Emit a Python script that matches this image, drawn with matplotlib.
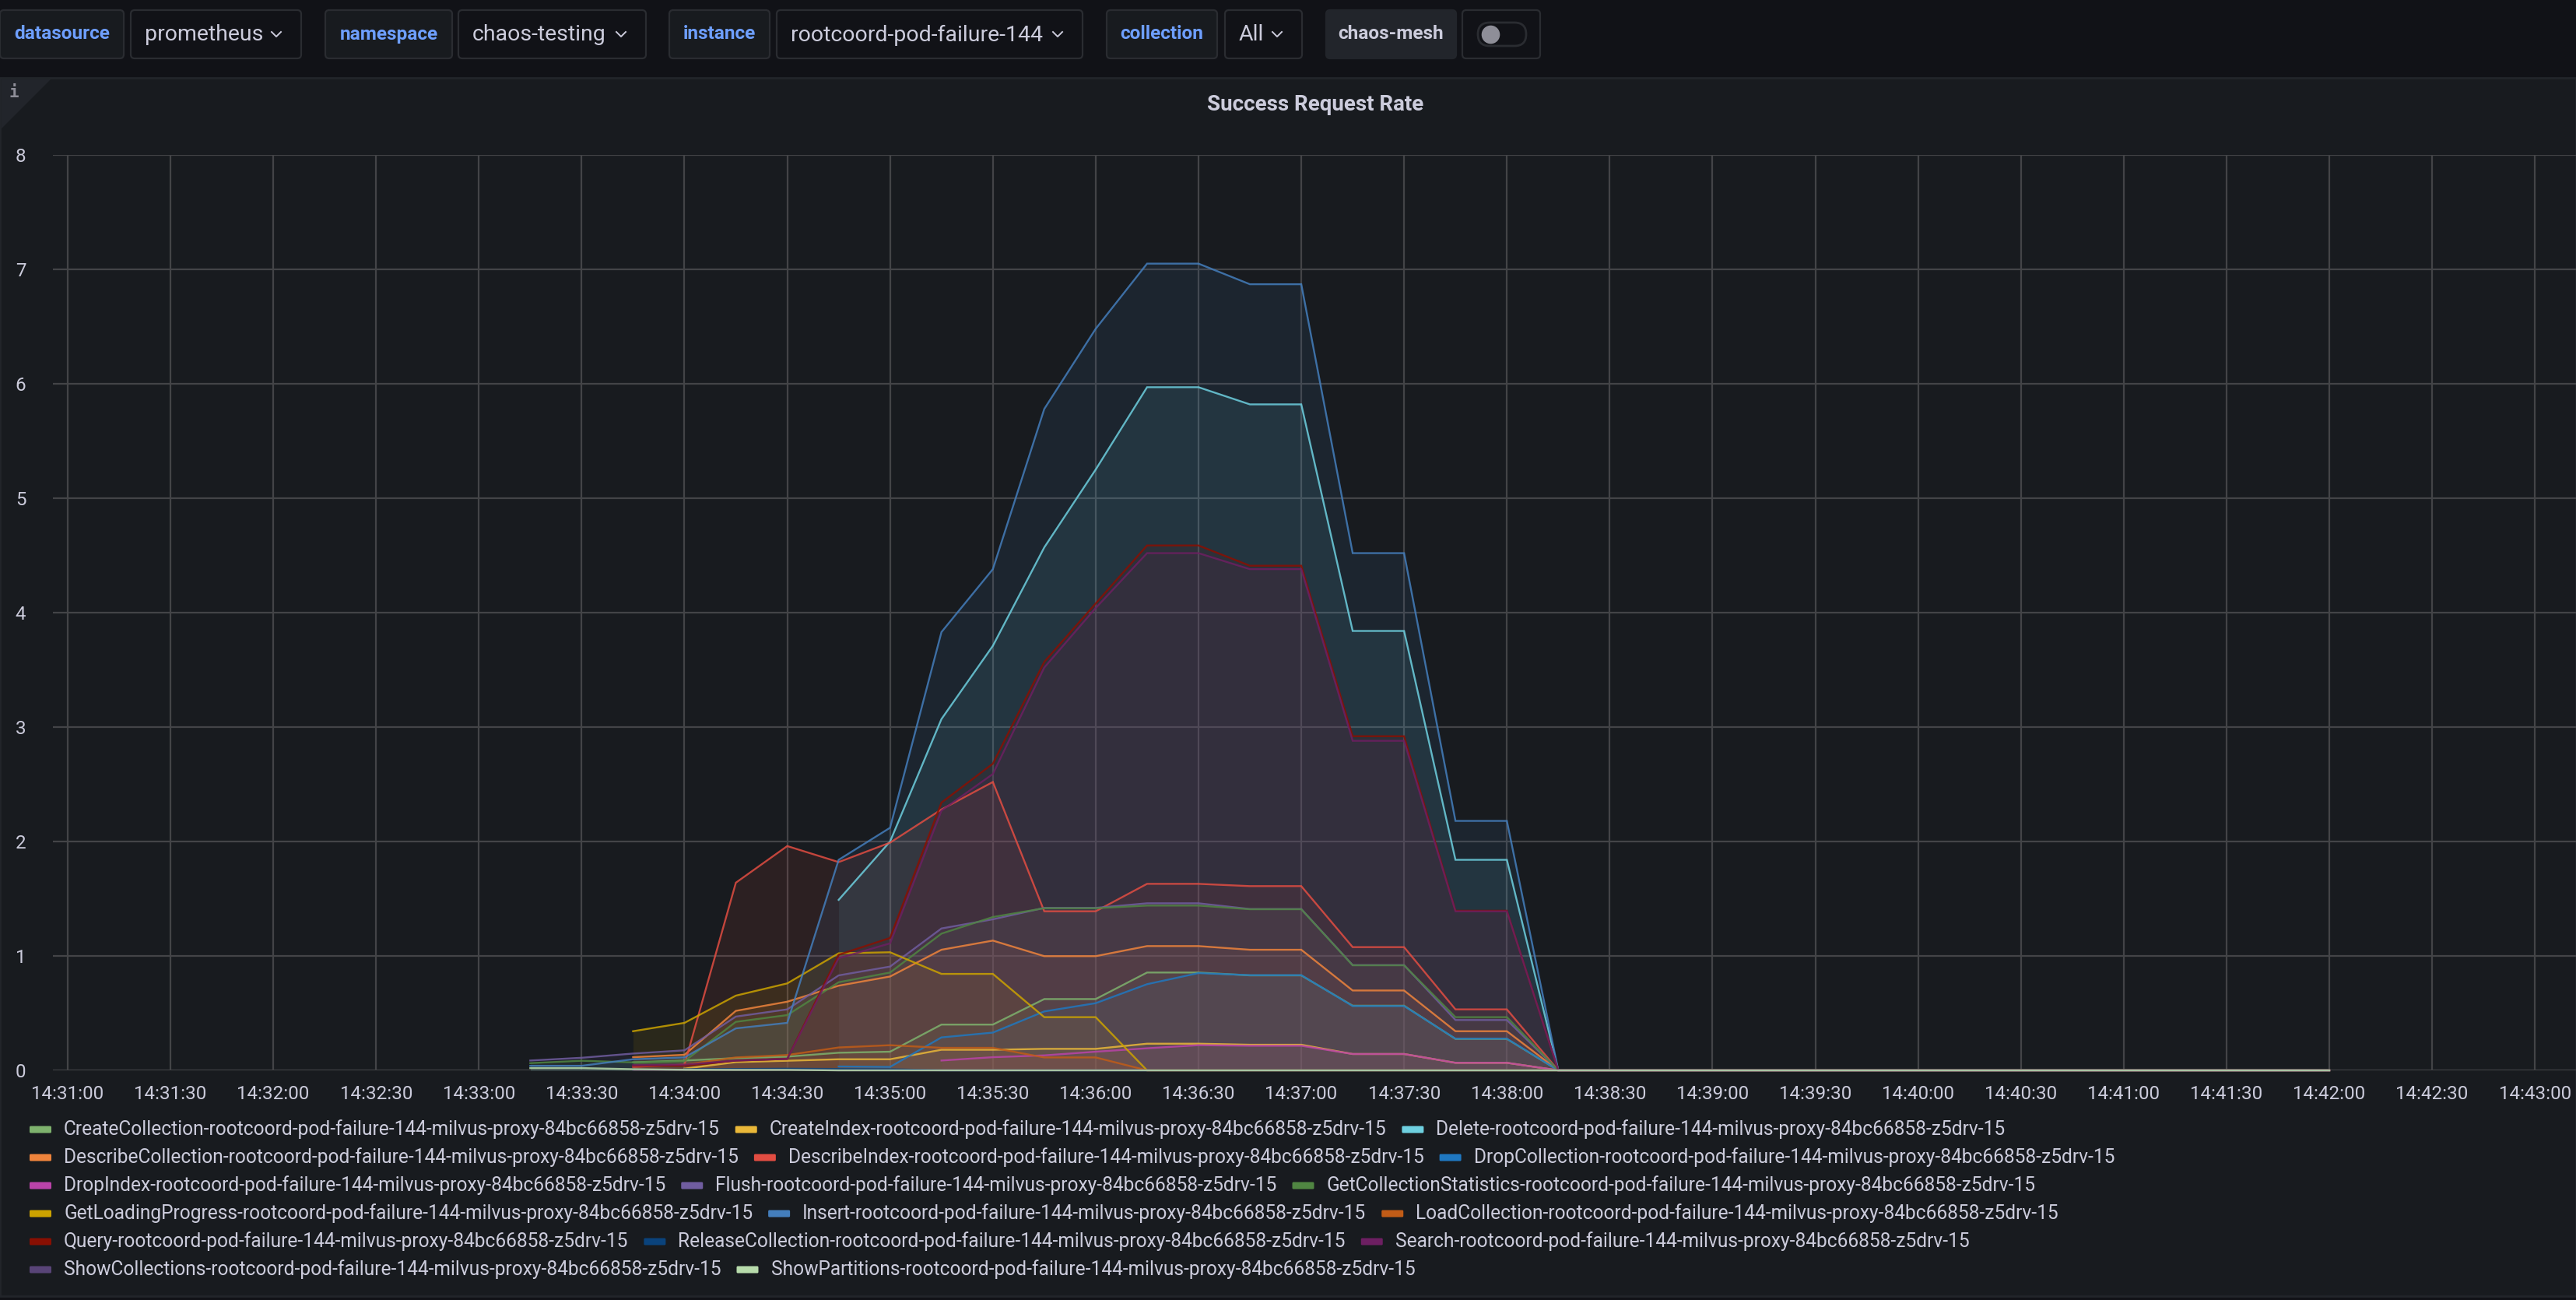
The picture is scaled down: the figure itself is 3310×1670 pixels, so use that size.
import numpy as np
import pandas as pd
import matplotlib
matplotlib.use("Agg")
import matplotlib.pyplot as plt
import matplotlib.dates as mdates
from matplotlib.patches import FancyBboxPatch, Polygon, Rectangle

plt.rcParams['font.family'] = ['Roboto', 'DejaVu Sans']

W, H = 3310, 1670
nan = np.nan

# samples every 15s, 14:33:15 .. 14:38:15, after that every series sits at 0 until 14:42:00
times = pd.date_range("2022-01-01 14:33:15", "2022-01-01 14:42:00", freq="15s")
tail = [0.0] * 15

suffix = "-rootcoord-pod-failure-144-milvus-proxy-84bc66858-z5drv-15"
names = ["CreateCollection", "CreateIndex", "Delete", "DescribeCollection", "DescribeIndex",
         "DropCollection", "DropIndex", "Flush", "GetCollectionStatistics", "GetLoadingProgress",
         "Insert", "LoadCollection", "Query", "ReleaseCollection", "Search", "ShowCollections",
         "ShowPartitions"]
colors = ["#7EB26D", "#EAB839", "#6ED0E0", "#EF843C", "#E24D42", "#1F78C1", "#BA43A9", "#705DA0",
          "#508642", "#CCA300", "#447EBC", "#C15C17", "#890F02", "#0A437C", "#6D1F62", "#584477",
          "#B7DBAB"]
legend_rows = [3, 3, 3, 3, 3, 2]

create_collection = [nan, nan, 0.07, 0.086, 0.107, 0.12, 0.154, 0.163, 0.40, 0.40, 0.623, 0.623, 0.855, 0.855, 0.83, 0.83, 0.565, 0.565, 0.275, 0.275, 0]
create_index = [nan, nan, nan, 0.015, 0.072, 0.084, 0.097, 0.097, 0.18, 0.18, 0.188, 0.188, 0.233, 0.233, 0.224, 0.224, 0.143, 0.143, 0.066, 0.066, 0]
delete = [nan, nan, nan, nan, nan, nan, 1.49, 2.0, 3.07, 3.71, 4.57, 5.25, 5.97, 5.97, 5.82, 5.82, 3.84, 3.84, 1.84, 1.84, 0]
describe_collection = [nan, nan, 0.115, 0.136, 0.52, 0.60, 0.74, 0.82, 1.054, 1.134, 0.998, 0.998, 1.086, 1.086, 1.054, 1.054, 0.698, 0.698, 0.342, 0.342, 0]
describe_index = [nan, nan, 0.03, 0.05, 1.64, 1.96, 1.82, 1.99, 2.28, 2.52, 1.39, 1.39, 1.63, 1.63, 1.61, 1.61, 1.077, 1.077, 0.533, 0.533, 0]
drop_collection = [nan, nan, nan, nan, nan, nan, 0.034, 0.03, 0.288, 0.33, 0.515, 0.587, 0.753, 0.85, 0.832, 0.832, 0.562, 0.562, 0.277, 0.277, 0]
drop_index = [nan, nan, nan, nan, nan, nan, nan, nan, 0.086, 0.115, 0.131, 0.163, 0.193, 0.22, 0.215, 0.215, 0.143, 0.143, 0.066, 0.066, 0]
flush = [0.086, 0.11, 0.147, 0.175, 0.47, 0.533, 0.83, 0.907, 1.24, 1.32, 1.42, 1.42, 1.46, 1.46, 1.41, 1.41, 0.92, 0.92, 0.44, 0.44, 0]
get_statistics = [0.063, 0.084, 0.07, 0.08, 0.424, 0.483, 0.77, 0.855, 1.195, 1.34, 1.417, 1.417, 1.44, 1.44, 1.408, 1.408, 0.918, 0.918, 0.465, 0.465, 0]
get_loading = [nan, nan, 0.342, 0.415, 0.653, 0.76, 1.023, 1.032, 0.843, 0.843, 0.465, 0.465, 0, 0, 0, 0, 0, 0, 0, 0, 0]
insert = [0.04, 0.04, 0.097, 0.113, 0.367, 0.415, 1.84, 2.12, 3.83, 4.38, 5.78, 6.48, 7.05, 7.05, 6.87, 6.87, 4.52, 4.52, 2.18, 2.18, 0]
load_collection = [nan, nan, nan, 0.05, 0.113, 0.134, 0.2, 0.22, 0.197, 0.197, 0.113, 0.113, 0, 0, 0, 0, 0, 0, 0, 0, 0]
query = [nan, nan, 0.04, 0.04, 0.085, 0.10, 1.01, 1.157, 2.34, 2.68, 3.57, 4.08, 4.587, 4.587, 4.41, 4.41, 2.92, 2.92, 1.395, 1.395, 0]
release_collection = [nan, nan, nan, 0.01, 0.012, 0.015, 0.012, 0.01, 0, 0, 0, 0, 0, 0, 0, 0, 0, 0, 0, 0, 0]
search = [nan, nan, 0.045, 0.05, 0.085, 0.10, 0.98, 1.11, 2.27, 2.59, 3.52, 4.04, 4.52, 4.52, 4.38, 4.38, 2.88, 2.88, 1.39, 1.39, 0]
show_collections = [nan, nan, 0.005, 0.005, 0.005, 0.005, 0, 0, 0, 0, 0, 0, 0, 0, 0, 0, 0, 0, 0, 0, 0]
show_partitions = [0.02, 0.02, 0.01, 0.005, 0.004, 0.004, 0, 0, 0, 0, 0, 0, 0, 0, 0, 0, 0, 0, 0, 0, 0]

series = [create_collection, create_index, delete, describe_collection, describe_index,
          drop_collection, drop_index, flush, get_statistics, get_loading, insert,
          load_collection, query, release_collection, search, show_collections, show_partitions]

# top bar: label, value
bar_items = [("datasource", 0, 159, "prometheus", 168, 387),
             ("namespace", 418, 581, "chaos-testing", 589, 830),
             ("instance", 860, 989, "rootcoord-pod-failure-144", 998, 1391),
             ("collection", 1422, 1564, "All", 1574, 1673)]

BG_BAR = "#111217"
BG_PANEL = "#181b1f"
EDGE = "#2a2c31"
TEXT = "#ccccdc"
BLUE = "#6e9fff"

fig = plt.figure(figsize=(W / 100, H / 100), dpi=100, facecolor=BG_BAR)

# pixel canvas for the dashboard furniture
ui = fig.add_axes([0, 0, 1, 1], zorder=0)
ui.set_xlim(0, W)
ui.set_ylim(H, 0)
ui.axis("off")


def box(x0, x1, y0, y1, fc, ec):
    ui.add_patch(FancyBboxPatch((x0 + 3, y0 + 3), x1 - x0 - 6, y1 - y0 - 6, boxstyle="round,pad=3,rounding_size=5",
                                fc=fc, ec=ec, lw=1.6))


ui.add_patch(Rectangle((0, 100), W, 1565, fc=BG_PANEL, ec="#22252a", lw=2))
ui.add_patch(Polygon([(2, 102), (65, 102), (2, 165)], fc="#22252b", ec="none"))
ui.text(18, 119, "i", color="#8e8e98", fontsize=15, fontweight="bold", family="DejaVu Sans Mono", ha="center", va="center")

for label, lx0, lx1, value, vx0, vx1 in bar_items:
    box(lx0, lx1, 13, 75, BG_PANEL, EDGE)
    box(vx0, vx1, 13, 75, BG_BAR, EDGE)
    ui.text((lx0 + lx1) / 2, 44, label, color=BLUE, fontsize=17.6, fontweight="bold", ha="center", va="center")
    ui.text(vx0 + 18, 45, value, color=TEXT, fontsize=20.5, ha="left", va="center")
    ui.plot(np.array([-6, 0, 6]) + vx1 - 32, [41, 47, 41], color=TEXT, lw=1.4)

box(1704, 1871, 13, 75, "#22252b", "#22252b")
ui.text(1787, 44, "chaos-mesh", color=TEXT, fontsize=17.6, fontweight="bold", ha="center", va="center")
box(1879, 1979, 13, 75, BG_BAR, EDGE)
ui.add_patch(FancyBboxPatch((1899, 29), 62, 30, boxstyle="round,pad=0,rounding_size=15", fc=BG_BAR, ec=EDGE, lw=2))
ui.plot([1915], [44], "o", ms=17, color="#8e8e98", mec="none")

ui.text(1690, 135, "Success Request Rate", color=TEXT, fontsize=20, fontweight="bold", ha="center", va="center")

# chart
left, right, top, bottom = 68, W, 199, 1375
ax = fig.add_axes([left / W, 1 - bottom / H, (right - left) / W, (bottom - top) / H], zorder=1)
ax.patch.set_visible(False)

for name, color, values in zip(names, colors, series):
    y = np.r_[values, tail]
    ax.fill_between(times, 0, y, where=~np.isnan(y), color=color, alpha=0.1, lw=0)
    ax.plot(times, y, color=color, lw=1.7, alpha=0.85, clip_on=False, solid_joinstyle="miter", label=name)

ax.set_xlim(pd.Timestamp("2022-01-01 14:30:55.7"), pd.Timestamp("2022-01-01 14:43:12"))
ax.set_ylim(0, 8)
ax.set_yticks(range(9))
ax.xaxis.set_major_locator(mdates.SecondLocator(bysecond=[0, 30]))
ax.xaxis.set_major_formatter(mdates.DateFormatter("%H:%M:%S"))
ax.grid(True, color="#434447", lw=1.6)
ax.set_axisbelow(True)
ax.tick_params(length=0, labelsize=17.4, labelcolor=TEXT, pad=14)
ax.tick_params(axis="y", pad=25)
for spine in ax.spines.values():
    spine.set_visible(False)
ax.axhline(0, color="#434447", lw=2, zorder=0)

# legend, flowed row by row like the dashboard does
renderer = fig.canvas.get_renderer()
k = 0
for r, count in enumerate(legend_rows):
    y = 1451 + 36 * r
    x = 38
    for _ in range(count):
        ui.add_patch(FancyBboxPatch((x + 1, y - 3.5), 26, 7, boxstyle="round,pad=1,rounding_size=1.5",
                                    fc=colors[k], ec="none"))
        t = ui.text(x + 44, y, names[k] + suffix, color=TEXT, fontsize=17.65, ha="left", va="center")
        x = t.get_window_extent(renderer).x1 + 20
        k += 1

fig.savefig("out.png", dpi=100, facecolor=fig.get_facecolor())
